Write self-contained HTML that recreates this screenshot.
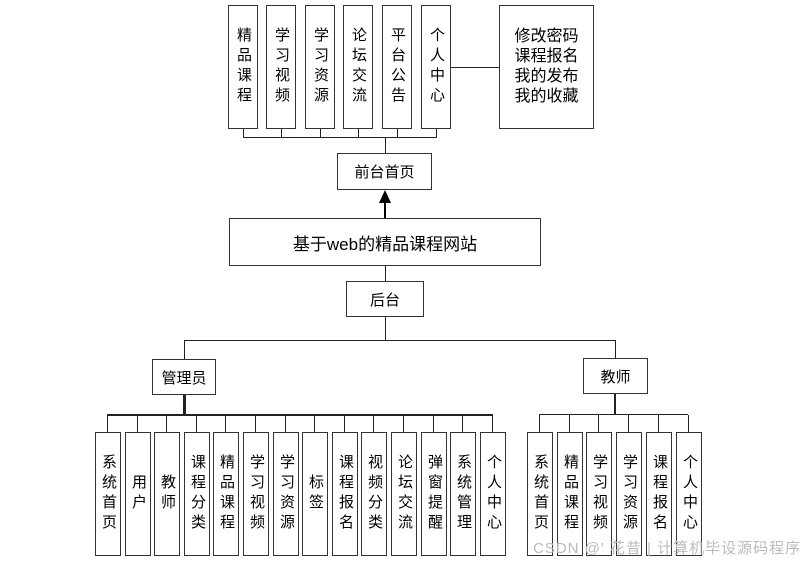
<!DOCTYPE html>
<html><head><meta charset="utf-8"><style>
body{margin:0;background:#fff;width:800px;height:562px;overflow:hidden;position:relative;font-family:"Liberation Sans","Noto Sans CJK SC",sans-serif;color:#000}
.b{position:absolute;box-sizing:border-box;border:1.5px solid #333;background:#fff;display:flex;align-items:center;justify-content:center;text-align:center;font-size:15px}
.v{line-height:20px;writing-mode:vertical-rl;letter-spacing:5px}
.l{position:absolute;background:#222}
</style></head><body>
<div class="b v" style="left:228px;top:5px;width:30px;height:124px">精品课程</div>
<div class="b v" style="left:266px;top:5px;width:30px;height:124px">学习视频</div>
<div class="b v" style="left:305px;top:5px;width:30px;height:124px">学习资源</div>
<div class="b v" style="left:343px;top:5px;width:30px;height:124px">论坛交流</div>
<div class="b v" style="left:382px;top:5px;width:30px;height:124px">平台公告</div>
<div class="b v" style="left:421px;top:5px;width:30px;height:124px">个人中心</div>
<div class="b" style="left:499px;top:5px;width:95px;height:124px;font-size:16px;line-height:20px">修改密码<br>课程报名<br>我的发布<br>我的收藏</div>
<div class="l" style="left:451px;top:67px;width:48px;height:1px"></div>
<div class="l" style="left:243px;top:137px;width:194px;height:1px"></div>
<div class="l" style="left:243px;top:129px;width:1px;height:8px"></div>
<div class="l" style="left:281px;top:129px;width:1px;height:8px"></div>
<div class="l" style="left:320px;top:129px;width:1px;height:8px"></div>
<div class="l" style="left:358px;top:129px;width:1px;height:8px"></div>
<div class="l" style="left:397px;top:129px;width:1px;height:8px"></div>
<div class="l" style="left:436px;top:129px;width:1px;height:8px"></div>
<div class="l" style="left:385px;top:137px;width:1px;height:16px"></div>
<div class="b" style="left:337px;top:153px;width:95px;height:37px">前台首页</div>
<svg style="position:absolute;left:0;top:0" width="800" height="562"><polygon points="385,190 379,203 391,203" fill="#000"/><line x1="385" y1="203" x2="385" y2="219" stroke="#000" stroke-width="2"/></svg>
<div class="b" style="left:229px;top:218px;width:312px;height:48px;font-size:17px">基于web的精品课程网站</div>
<div class="l" style="left:385px;top:266px;width:1px;height:15px"></div>
<div class="b" style="left:346px;top:281px;width:78px;height:36px">后台</div>
<div class="l" style="left:385px;top:317px;width:1px;height:24px"></div>
<div class="l" style="left:184px;top:340px;width:432px;height:1px"></div>
<div class="l" style="left:184px;top:340px;width:1px;height:19px"></div>
<div class="l" style="left:615px;top:340px;width:1px;height:18px"></div>
<div class="b" style="left:152px;top:359px;width:64px;height:36px">管理员</div>
<div class="b" style="left:583px;top:358px;width:65px;height:36px">教师</div>
<div class="l" style="left:183px;top:395px;width:3px;height:21px"></div>
<div class="l" style="left:107px;top:414px;width:386px;height:2px"></div>
<div class="l" style="left:614px;top:394px;width:2px;height:21px"></div>
<div class="l" style="left:539px;top:414px;width:149px;height:1px"></div>
<div id="adm"></div>
<div style="position:absolute;left:533px;top:537px;font-size:15px;letter-spacing:1px;color:#bbb;white-space:nowrap">CSDN @'  花昔  | 计算机毕设源码程序</div>
<script>
var a=["系统首页","用户","教师","课程分类","精品课程","学习视频","学习资源","标签","课程报名","视频分类","论坛交流","弹窗提醒","系统管理","个人中心"];
var t=["系统首页","精品课程","学习视频","学习资源","课程报名","个人中心"];
var h="";
a.forEach(function(s,i){var x=95+i*29.6;h+='<div class="l" style="left:'+Math.round(x+12)+'px;top:415px;width:1px;height:17px"></div><div class="b v" style="left:'+Math.round(x)+'px;top:432px;width:26px;height:124px">'+s+'</div>';});
t.forEach(function(s,i){var x=527+i*29.7;h+='<div class="l" style="left:'+Math.round(x+12)+'px;top:415px;width:1px;height:17px"></div><div class="b v" style="left:'+Math.round(x)+'px;top:432px;width:26px;height:124px">'+s+'</div>';});
document.getElementById("adm").innerHTML=h;
</script>
</body></html>
